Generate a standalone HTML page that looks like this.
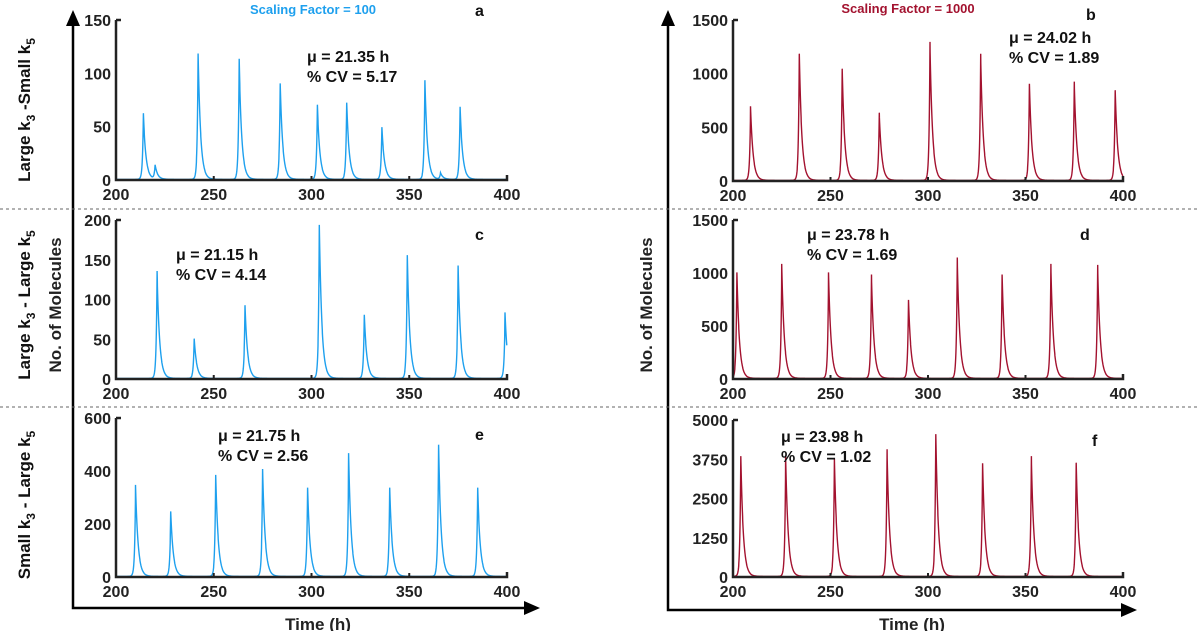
<!DOCTYPE html>
<html><head><meta charset="utf-8"><style>
body{margin:0;background:#fff}
svg{display:block;font-family:"Liberation Sans",sans-serif;font-weight:bold}
</style></head><body>
<svg id="fig" width="1200" height="631" viewBox="0 0 1200 631">
<g id="frame"></g>
</svg>
<script>
// Peak times and heights
const timesA=[214,220,242,263,284,303,318,336,358,366,376];
const valsA=[62,13,118,113,90,70,72,49,93,6,68];
const timesB=[209,234,256,275,301,327,352,375,396];
const valsB=[690,1180,1040,630,1290,1180,900,920,840];
const timesC=[221,240,266,304,327,349,375,399];
const valsC=[135,50,92,193,80,155,142,83];
const timesD=[202,225,249,271,290,315,338,363,387];
const valsD=[1000,1080,1000,980,740,1140,980,1080,1070];
const timesE=[210,228,251,275,298,319,340,365,385];
const valsE=[345,245,383,405,335,465,335,497,335];
const timesF=[204,227,252,279,304,328,353,376];
const valsF=[3830,3850,3730,4050,4530,3600,3830,3620];
const xTicks=[200,250,300,350,400];
const yTicksA=[0,50,100,150],yTicksB=[0,500,1000,1500],yTicksC=[0,50,100,150,200];
const yTicksD=[0,500,1000,1500],yTicksE=[0,200,400,600],yTicksF=[0,1250,2500,3750,5000];

const NS='http://www.w3.org/2000/svg';
const svg=document.getElementById('fig');
function mk(tag,attrs,parent,txt){const e=document.createElementNS(NS,tag);for(const k in attrs)e.setAttribute(k,attrs[k]);if(txt!==undefined)e.textContent=txt;(parent||svg).appendChild(e);return e;}

const BLUE='#1ea0ee',RED='#a3122f';
const panels=[
 {id:'a',x0:116,x1:507,yT:20,yB:180,ymax:150,t:timesA,v:valsA,ticks:yTicksA,c:BLUE,stat:['μ = 21.35 h','% CV = 5.17'],sx:307,sy:62,lx:475,ly:12},
 {id:'b',x0:733,x1:1123,yT:20,yB:181,ymax:1500,t:timesB,v:valsB,ticks:yTicksB,c:RED,stat:['μ = 24.02 h','% CV = 1.89'],sx:1009,sy:43,lx:1086,ly:16},
 {id:'c',x0:116,x1:507,yT:220,yB:379,ymax:200,t:timesC,v:valsC,ticks:yTicksC,c:BLUE,stat:['μ = 21.15 h','% CV = 4.14'],sx:176,sy:260,lx:475,ly:236},
 {id:'d',x0:733,x1:1123,yT:220,yB:379,ymax:1500,t:timesD,v:valsD,ticks:yTicksD,c:RED,stat:['μ = 23.78 h','% CV = 1.69'],sx:807,sy:240,lx:1080,ly:236},
 {id:'e',x0:116,x1:507,yT:418,yB:577,ymax:600,t:timesE,v:valsE,ticks:yTicksE,c:BLUE,stat:['μ = 21.75 h','% CV = 2.56'],sx:218,sy:441,lx:475,ly:436},
 {id:'f',x0:733,x1:1123,yT:420,yB:577,ymax:5000,t:timesF,v:valsF,ticks:yTicksF,c:RED,stat:['μ = 23.98 h','% CV = 1.02'],sx:781,sy:442,lx:1092,ly:442}
];

panels.forEach(p=>{
 const g=mk('g',{});
 
 
 const xs=t=>p.x0+(t-200)/200*(p.x1-p.x0);
 const ys=v=>p.yB-v/p.ymax*(p.yB-p.yT);
 let d='';
 for(let t=200;t<=400;t+=0.1){
  let v=p.ymax*0.004;
  p.t.forEach((pt,i)=>{const dt=t-pt;
   if(dt>=0)v+=p.v[i]*Math.exp(-dt/1.3);
   else v+=p.v[i]*Math.exp(dt/0.45);});
  d+=(d?'L':'M')+xs(t).toFixed(1)+' '+ys(Math.min(v,p.ymax)).toFixed(1);
 }
 const line=mk('path',{d:d,fill:'none',stroke:p.c,'stroke-width':1.4},g);
 
 
 const ax=mk('path',{d:`M${p.x0} ${p.yT}H${p.x0+5}M${p.x0} ${p.yT}V${p.yB}H${p.x1}V${p.yB-5}`,fill:'none',stroke:'#222','stroke-width':2.5},g);
 
 
 xTicks.forEach(t=>{
  mk('line',{x1:xs(t),x2:xs(t),y1:p.yB,y2:p.yB-4,stroke:'#222','stroke-width':2},g);
  const tl=mk('text',{x:xs(t),y:p.yB+20,'text-anchor':'middle','font-size':16,fill:'#222'},g,t);
  
  
 });
 p.ticks.forEach(v=>{
  const tl=mk('text',{x:p.x0-5,y:ys(v)+6,'text-anchor':'end','font-size':16,fill:'#222'},g,v);
  
  
 });
 const st=mk('text',{x:p.sx,y:p.sy,'font-size':16,fill:'#111'},g);
 
 
 mk('tspan',{x:p.sx,dy:0},st,p.stat[0]);
 mk('tspan',{x:p.sx,dy:20},st,p.stat[1]);
 const lb=mk('text',{x:p.lx,y:p.ly+4,'font-size':16,fill:'#111'},g,p.id);
 
 
});

const big=mk('path',{d:'M73 22V608H528M668 22V610H1123',fill:'none',stroke:'#000','stroke-width':2.5});


const arr=mk('path',{d:'M66 26L73 10L80 26ZM524 601L540 608L524 615ZM661 26L668 10L675 26ZM1121 603L1137 610L1121 617Z',fill:'#000'});


const dash=mk('path',{d:'M0 209H1200M0 407H1200',stroke:'#666','stroke-width':1,'stroke-dasharray':'3,3'});



function txt(name,attrs,content){const e=mk('text',attrs,svg,content);return e;}
txt('title-left',{x:313,y:14,'text-anchor':'middle','font-size':13,fill:BLUE},'Scaling Factor = 100');
txt('title-right',{x:908,y:13,'text-anchor':'middle','font-size':13,fill:RED},'Scaling Factor = 1000');
txt('x-axis-title-left',{x:318,y:630,'text-anchor':'middle','font-size':17,fill:'#222'},'Time (h)');
txt('x-axis-title-right',{x:912,y:630,'text-anchor':'middle','font-size':17,fill:'#222'},'Time (h)');
txt('y-axis-title-left',{x:0,y:0,transform:'translate(61,305) rotate(-90)','text-anchor':'middle','font-size':17,fill:'#222'},'No. of  Molecules');
txt('y-axis-title-right',{x:0,y:0,transform:'translate(652,305) rotate(-90)','text-anchor':'middle','font-size':17,fill:'#222'},'No. of Molecules');
function rowLabel(name,cy,a,b){const e=txt(name,{x:0,y:0,transform:`translate(30,${cy}) rotate(-90)`,'text-anchor':'middle','font-size':17,fill:'#111'});
 mk('tspan',{},e,a+' k');mk('tspan',{'font-size':12,dy:5},e,'3');mk('tspan',{dy:-5},e,b+' k');mk('tspan',{'font-size':12,dy:5},e,'5');}
rowLabel('row-label-1',110,'Large',' -Small');
rowLabel('row-label-2',305,'Large',' - Large');
rowLabel('row-label-3',505,'Small',' - Large');
</script>
</body></html>
